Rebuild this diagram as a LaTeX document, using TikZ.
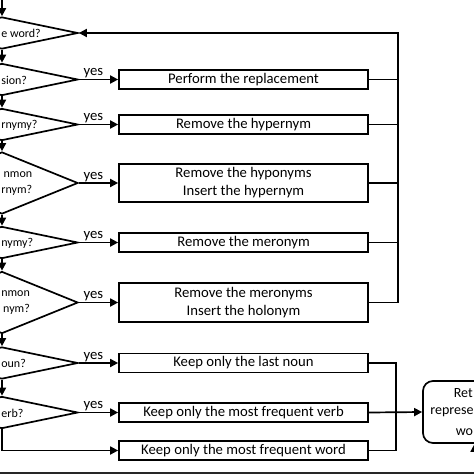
\documentclass[tikz,border=0pt]{standalone}
\usepackage{fontspec}
\setmainfont{Carlito}
\usetikzlibrary{shapes.geometric,arrows.meta}
\begin{document}
\begin{tikzpicture}[x=1pt,y=-1pt,
  line width=1.7pt,
  arr/.style={-{Triangle[length=8pt,width=8pt]}},
  box/.style={draw,rectangle,minimum width=249pt,minimum height=19pt,inner sep=0pt,align=center,font=\fontsize{14.7}{18}\selectfont},
  boxtwo/.style={box,minimum height=38.5pt},
  dia/.style={draw,diamond,minimum width=152pt,minimum height=32pt,inner sep=0pt},
  diatwo/.style={dia,minimum height=62pt},
  qtext/.style={anchor=west,inner sep=0pt,align=right,font=\fontsize{12}{16}\selectfont},
  frag/.style={anchor=west,inner sep=0pt,font=\fontsize{14}{18}\selectfont},
  yes/.style={above,inner sep=0.6pt,pos=0.37,font=\fontsize{14.7}{18}\selectfont},
]
\useasboundingbox (0,0) rectangle (474,474);
% bottom bar
\fill[black!85] (0,471.5) rectangle (474,474);

% diamonds
\node[dia] (d1) at (2,33) {};
\node[dia] (d2) at (2,79.5) {};
\node[dia] (d3) at (2,124.5) {};
\node[diatwo] (d4) at (2,183) {};
\node[dia] (d5) at (2,242.5) {};
\node[diatwo] (d6) at (2,302.5) {};
\node[dia] (d7) at (2,363) {};
\node[dia] (d8) at (2,412.5) {};

% diamond text fragments
\node[qtext] (q1) at (0.5,33) {e word?};
\node[qtext] (q2) at (0.5,80) {sion?};
\node[qtext] (q3) at (0.5,125) {rnymy?};
\node[qtext] (q4) at (0.5,184) {nmon\\rnym?};
\node[qtext] (q5) at (0.5,243) {nymy?};
\node[qtext] (q6) at (0.5,303) {nmon\\nym?};
\node[qtext] (q7) at (0.5,363) {oun?};
\node[qtext] (q8) at (0.5,413) {erb?};

% boxes
\node[box] (b1) at (243.5,79.5) {Perform the replacement};
\node[box] (b2) at (243.5,124.5) {Remove the hypernym};
\node[boxtwo] (b3) at (243.5,183) {Remove the hyponyms\\Insert the hypernym};
\node[box] (b4) at (243.5,242.5) {Remove the meronym};
\node[boxtwo] (b5) at (243.5,302.5) {Remove the meronyms\\Insert the holonym};
\node[box] (b6) at (243.5,363) {Keep only the last noun};
\node[box] (b7) at (243.5,412.5) {Keep only the most frequent verb};
\node[box] (b8) at (243.5,450.5) {Keep only the most frequent word};

% result box
\node[draw,rounded corners=10pt,minimum width=102pt,minimum height=62pt,inner sep=0pt] (r) at (474,412) {};
\node[frag] (r1) at (453,393) {Ret};
\node[frag] (r2) at (429.5,412.5) {represe};
\node[frag] (r3) at (455,432) {wo};

% coordinates
\coordinate (top) at (2,0);
\coordinate (lt) at (398,33);
\coordinate (j) at (396,412.5);
\coordinate (rin) at (474.5,474);

% vertical chain
\draw[arr] (top) -- (d1.north);
\draw[arr] (d1.south) -- (d2.north);
\draw[arr] (d2.south) -- (d3.north);
\draw[arr] (d3.south) -- (d4.north);
\draw[arr] (d4.south) -- (d5.north);
\draw[arr] (d5.south) -- (d6.north);
\draw[arr] (d6.south) -- (d7.north);
\draw[arr] (d7.south) -- (d8.north);
\draw[arr] (d8.south) |- (b8.west);

% yes branches
\draw[arr] (d2.east) -- node[yes] {yes} (b1.west);
\draw[arr] (d3.east) -- node[yes] {yes} (b2.west);
\draw[arr] (d4.east) -- node[yes] {yes} (b3.west);
\draw[arr] (d5.east) -- node[yes] {yes} (b4.west);
\draw[arr] (d6.east) -- node[yes] {yes} (b5.west);
\draw[arr] (d7.east) -- node[yes] {yes} (b6.west);
\draw[arr] (d8.east) -- node[yes] {yes} (b7.west);

% loop back
\draw[arr] (b5.east) -| (lt) -- (d1.east);
\draw (b1.east) -- (b1.east -| lt);
\draw (b2.east) -- (b2.east -| lt);
\draw (b3.east) -- (b3.east -| lt);
\draw (b4.east) -- (b4.east -| lt);

% to result
\draw (b6.east) -| (j) |- (b8.east);
\draw[arr] (b7.east) -- (r.west);
\draw[arr] (rin) -- (rin |- r.south);
\end{tikzpicture}
\end{document}
